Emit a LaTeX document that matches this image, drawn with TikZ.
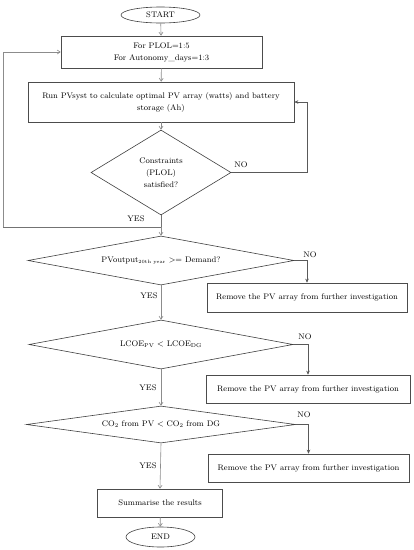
\documentclass[tikz,border=0pt]{standalone}
\usetikzlibrary{shapes.geometric,arrows.meta}
\begin{document}
\begin{tikzpicture}[x=1pt,y=-1pt,
  every node/.style={font=\fontsize{8.1}{12}\selectfont, text=black},
  proc/.style={draw=black!70, line width=0.6pt, rectangle, inner sep=0pt, align=center},
  term/.style={draw=black!75, line width=0.6pt, ellipse, inner sep=0pt},
  dec/.style={draw=black!75, line width=0.6pt, diamond, inner sep=0pt, align=center},
  flow/.style={draw=black!45, line width=0.6pt, -{Straight Barb[length=3pt,width=4pt]}},
  flowline/.style={draw=black!55, line width=0.6pt},
  noflow/.style={draw=black!65, line width=0.7pt, -{Stealth[length=4pt,width=3.5pt]}},
  lbl/.style={font=\fontsize{8.1}{10}\selectfont, inner sep=0pt}]
\useasboundingbox (0,0) rectangle (414,550);
\fill[white] (0,0) rectangle (414,550);

\node[term, minimum width=79pt, minimum height=16pt] (start) at (160.5,15) {START};
\node[proc, minimum width=201pt, minimum height=32pt] (b1) at (161.5,52) {For PLOL=1:5\\For Autonomy\_days=1:3};
\node[proc, minimum width=266pt, minimum height=40pt] (b2) at (161,102) {Run PVsyst to calculate optimal PV array (watts) and battery\\storage (Ah)};
\node[dec, minimum width=140pt, minimum height=85pt, aspect=1.65] (d1) at (161,172.5) {Constraints\\(PLOL)\\satisfied?};
\node[dec, minimum width=266pt, minimum height=49pt, aspect=5.4] (d2) at (161,260.5) {PVoutput\textsubscript{\fontsize{4.8}{5}\selectfont 20th year} >= Demand?};
\node[dec, minimum width=264pt, minimum height=49pt, aspect=5.4] (d3) at (161,344.5) {LCOE\textsubscript{PV} < LCOE\textsubscript{DG}};
\node[dec, minimum width=269pt, minimum height=37pt, aspect=7.2] (d4) at (161,424.5) {CO\textsubscript{2} from PV < CO\textsubscript{2} from DG};
\node[proc, minimum width=200pt, minimum height=29pt] (b3) at (307,297.5) {Remove the PV array from further investigation};
\node[proc, minimum width=204pt, minimum height=28pt] (b4) at (308,389) {Remove the PV array from further investigation};
\node[proc, minimum width=201pt, minimum height=28pt] (b5) at (308.5,468) {Remove the PV array from further investigation};
\node[proc, minimum width=125pt, minimum height=28pt] (b6) at (160,503) {Summarise the results};
\node[term, minimum width=69pt, minimum height=20pt] (end) at (160.5,537) {END};

\coordinate (r1) at (307,172.5);
\coordinate (j1) at (161,227);
\coordinate (l1) at (3,227);

\draw[flow] (start) -- (b1);
\draw[flow] (b1) -- (b2);
\draw[flow] (b2) -- (d1);
\draw[flowline, draw=black!65] (d1.east) -- (r1);
\draw[noflow] (r1) |- (b2.east);
\draw[flowline] (d1.south) -- (j1);
\draw[flowline] (j1) -- (l1);
\draw[flow] (l1) |- (b1.west);
\draw[flow] (j1) -- (d2.north);
\draw[noflow] (d2.east) -| (b3.north);
\draw[flow] (d2.south) -- (d3.north);
\draw[noflow] (d3.east) -| (b4.north);
\draw[flow] (d3.south) -- (d4.north);
\draw[noflow] (d4.east) -| (b5.north);
\draw[flow] (d4.south) -- (b6.north);
\draw[flow] (b6) -- (end);

\node[lbl] (no1) at (241,165) {NO};
\node[lbl] (yes1) at (136,219) {YES};
\node[lbl] (no2) at (310,255) {NO};
\node[lbl] (yes2) at (149,296) {YES};
\node[lbl] (no3) at (305,337) {NO};
\node[lbl] (yes3) at (148,388) {YES};
\node[lbl] (no4) at (304,415) {NO};
\node[lbl] (yes4) at (148,466) {YES};
\end{tikzpicture}
\end{document}
